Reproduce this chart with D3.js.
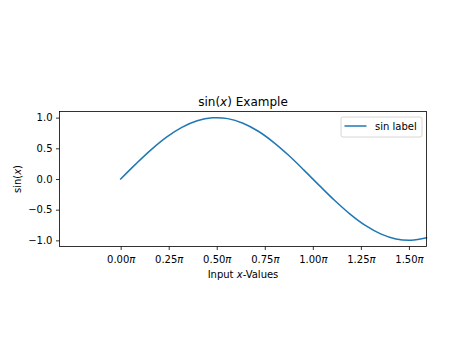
<!DOCTYPE html>
<html><head><meta charset="utf-8">
<script src="https://cdn.jsdelivr.net/npm/d3@7"></script>
<style>body{margin:0;background:#fff}svg{display:block}text{font-family:"DejaVu Sans",sans-serif;fill:#000}</style>
</head><body>
<svg id="c" width="474" height="355"></svg>
<script>
// Data
const xValues = [0,0.25,0.5,0.75,1.0,1.25,1.5,1.75,2.0,2.25,2.5,2.75,3.0,3.25,3.5,3.75,4.0,4.25,4.5,4.75,5.0];
const yValues = [0,0.247,0.479,0.682,0.841,0.949,0.997,0.984,0.909,0.778,0.598,0.382,0.141,-0.108,-0.351,-0.572,-0.757,-0.895,-0.978,-0.999,-0.959];
const xTicks = [0,0.25,0.5,0.75,1.0,1.25,1.5]; // multiples of pi
const xTickLabels = ["0.00","0.25","0.50","0.75","1.00","1.25","1.50"]; // followed by italic π
const yTicks = [-1.0,-0.5,0.0,0.5,1.0];
const yTickLabels = ["−1.0","−0.5","0.0","0.5","1.0"];
const seriesName = "sin label";

const svg = d3.select("#c");
const L=59.5, R=426.5, T=111.5, B=246.5;
const x = d3.scaleLinear().domain([-1,5]).range([L,R]);
const y = d3.scaleLinear().domain([-1.1,1.1]).range([B,T]);

// line
const line = d3.line().x((d,i)=>x(xValues[i])).y(d=>y(d)).curve(d3.curveCatmullRom);
svg.append("path").datum(yValues).attr("d",line).attr("fill","none")
  .attr("stroke","#1f77b4").attr("stroke-width",1.5).attr("stroke-linecap","square");

// axes
const xAxis = d3.axisBottom(x).tickValues(xTicks.map(t=>t*Math.PI))
  .tickFormat("").tickSize(3.5).tickPadding(3.5);
const gx = svg.append("g").attr("transform",`translate(0,${B})`).call(xAxis);
gx.selectAll(".tick text").each(function(d,i){
  const s = d3.select(this).text(null);
  s.append("tspan").text(xTickLabels[i]);
  s.append("tspan").attr("font-style","italic").text("π");
});
const yAxis = d3.axisLeft(y).tickValues(yTicks).tickFormat((d,i)=>yTickLabels[i]).tickSize(3.5).tickPadding(3.5);
const gy = svg.append("g").attr("transform",`translate(${L},0)`).call(yAxis);
[gx,gy].forEach(g=>{
  g.select(".domain").remove();
  g.selectAll("line").attr("stroke","#000").attr("stroke-width",0.8);
  g.selectAll("text").attr("font-size",10).attr("font-family","DejaVu Sans").attr("fill","#000");
});
gx.selectAll("text").attr("dy","0.9em");

// spines
svg.append("rect").attr("x",L).attr("y",T).attr("width",R-L).attr("height",B-T)
  .attr("fill","none").attr("stroke","#000").attr("stroke-width",0.8);

// title & labels
const t = svg.append("text").attr("x",(L+R)/2).attr("y",106).attr("text-anchor","middle").attr("font-size",12);
t.append("tspan").text("sin(");
t.append("tspan").attr("font-style","italic").text("x");
t.append("tspan").text(") Example");

const xl = svg.append("text").attr("x",(L+R)/2).attr("y",278).attr("text-anchor","middle").attr("font-size",10);
xl.append("tspan").text("Input ");
xl.append("tspan").attr("font-style","italic").text("x");
xl.append("tspan").text("-Values");

const yl = svg.append("text").attr("transform",`translate(21,${(T+B)/2}) rotate(-90)`).attr("text-anchor","middle").attr("font-size",10);
yl.append("tspan").text("sin(");
yl.append("tspan").attr("font-style","italic").text("x");
yl.append("tspan").text(")");

// legend
svg.append("rect").attr("x",341).attr("y",117).attr("width",81).attr("height",20).attr("rx",2)
  .attr("fill","#fff").attr("fill-opacity",0.8).attr("stroke","#ccc").attr("stroke-width",0.8);
svg.append("line").attr("x1",344.5).attr("x2",366.5).attr("y1",126).attr("y2",126)
  .attr("stroke","#1f77b4").attr("stroke-width",1.5);
svg.append("text").attr("x",375).attr("y",129.5).attr("font-size",10).text(seriesName);
</script>
</body></html>
